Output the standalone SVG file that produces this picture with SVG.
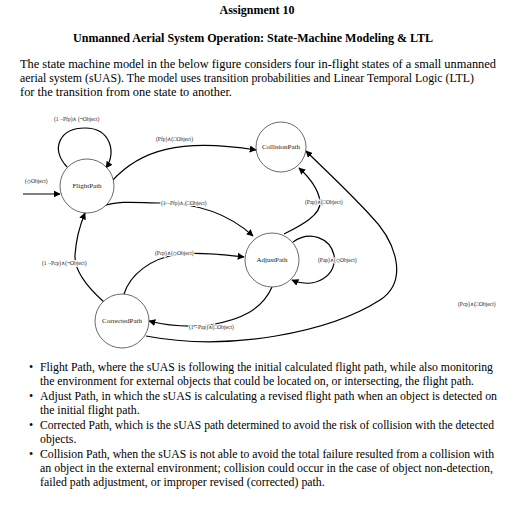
<svg xmlns="http://www.w3.org/2000/svg" width="514" height="514" viewBox="0 0 514 514">
<defs>
<marker id="ah" viewBox="0 0 10 10" refX="9" refY="5" markerWidth="7" markerHeight="7" orient="auto" markerUnits="userSpaceOnUse"><path d="M0,0 L10,5 L0,10 z" fill="#000"/></marker>
<style>
.t{font-family:"Liberation Serif",serif;font-size:12.4px;fill:#000}
.s{font-family:"Liberation Serif",serif;font-size:11.8px;fill:#000}
.b{font-weight:bold;font-size:12px}
.n{font-family:"Liberation Serif",serif;font-size:7px;fill:#222;text-anchor:middle}
.l{font-family:"Liberation Serif","DejaVu Sans",serif;font-size:5.5px;fill:#222;stroke:#fff;stroke-width:2;paint-order:stroke}
.c{fill:#fff;stroke:#444;stroke-width:0.8}
.e{fill:none;stroke:#000;stroke-width:1.2;marker-end:url(#ah)}
</style>
</defs>
<rect width="514" height="514" fill="#fff"/>
<g id="header">
<text class="t b" x="257" y="14" text-anchor="middle">Assignment 10</text>
<text class="t b" x="73" y="42" textLength="360" lengthAdjust="spacingAndGlyphs">Unmanned Aerial System Operation: State-Machine Modeling &amp; LTL</text>
<text class="t" x="20" y="68" textLength="476" lengthAdjust="spacingAndGlyphs">The state machine model in the below figure considers four in-flight states of a small unmanned</text>
<text class="t" x="20" y="82" textLength="454" lengthAdjust="spacingAndGlyphs">aerial system (sUAS). The model uses transition probabilities and Linear Temporal Logic (LTL)</text>
<text class="t" x="20" y="96">for the transition from one state to another.</text>
</g>
<g id="connectors">
<path class="e" d="M23,194 L60,194"/>
<text class="l" x="25" y="183">(◇Object)</text>
<path class="e" d="M67,167 C50,148 60,128 85,128 C110,128 117,152 106,168"/>
<text class="l" x="54" y="121">(1 −Pfp)∧ (¬Object)</text>
<path class="e" d="M112,181 C140,150 180,138 256,150"/>
<text class="l" x="156" y="141">(Pfp)∧(□Object)</text>
<path class="e" d="M103,206 C120,200 140,203 160,203 C200,203 230,215 253,236"/>
<text class="l" x="161" y="205">(1 −Pfp)∧ (□Object)</text>
<path class="e" d="M284,234 C300,226 322,215 320,201 C318,188 310,178 299,168"/>
<text class="l" x="305" y="204">(Pap)∧(□Object)</text>
<path class="e" d="M146,336 C230,352 330,332 380,300 C410,280 395,240 370,215 C345,188 325,170 306,151"/>
<text class="l" x="458" y="306">(Pcp)∧(□Object)</text>
<path class="e" d="M124,294 C130,275 150,258 180,254 C205,252 225,255 244,257"/>
<text class="l" x="155" y="255">(Pcp)∧(◇Object)</text>
<path class="e" d="M293,242 C310,230 330,238 334,255 C338,275 315,290 292,280"/>
<text class="l" x="318" y="262">(Pap)∧(◇Object)</text>
<path class="e" d="M272,287 C262,310 240,320 210,325 C185,328 165,325 149,321"/>
<text class="l" x="189" y="329">(1 −Pap)∧(□Object)</text>
<path class="e" d="M104,302 C85,285 74,270 75,255 C76,240 80,225 85,213"/>
<text class="l" x="42" y="265">(1 −Pcp)∧(¬Object)</text>
</g>
<g id="FlightPath"><circle class="c" cx="87" cy="186" r="27"/><text class="n" x="87" y="188">FlightPath</text></g>
<g id="CollisionPath"><circle class="c" cx="281" cy="147" r="25"/><text class="n" x="281" y="149">CollisionPath</text></g>
<g id="AdjustPath"><circle class="c" cx="272" cy="260" r="27"/><text class="n" x="272" y="262">AdjustPath</text></g>
<g id="CorrectedPath"><circle class="c" cx="122" cy="321" r="27"/><text class="n" x="122" y="323">CorrectedPath</text></g>
<g id="bullets" class="s">
<text x="29" y="371">•</text>
<text x="40" y="371" textLength="453" lengthAdjust="spacingAndGlyphs">Flight Path, where the sUAS is following the initial calculated flight path, while also monitoring</text>
<text x="40" y="385" textLength="434" lengthAdjust="spacingAndGlyphs">the environment for external objects that could be located on, or intersecting, the flight path.</text>
<text x="29" y="400">•</text>
<text x="40" y="400" textLength="457" lengthAdjust="spacingAndGlyphs">Adjust Path, in which the sUAS is calculating a revised flight path when an object is detected on</text>
<text x="40" y="414">the initial flight path.</text>
<text x="29" y="429">•</text>
<text x="40" y="429" textLength="454" lengthAdjust="spacingAndGlyphs">Corrected Path, which is the sUAS path determined to avoid the risk of collision with the detected</text>
<text x="40" y="443">objects.</text>
<text x="29" y="458">•</text>
<text x="40" y="458" textLength="454" lengthAdjust="spacingAndGlyphs">Collision Path, when the sUAS is not able to avoid the total failure resulted from a collision with</text>
<text x="40" y="472" textLength="453" lengthAdjust="spacingAndGlyphs">an object in the external environment; collision could occur in the case of object non-detection,</text>
<text x="40" y="486">failed path adjustment, or improper revised (corrected) path.</text>
</g>
</svg>
